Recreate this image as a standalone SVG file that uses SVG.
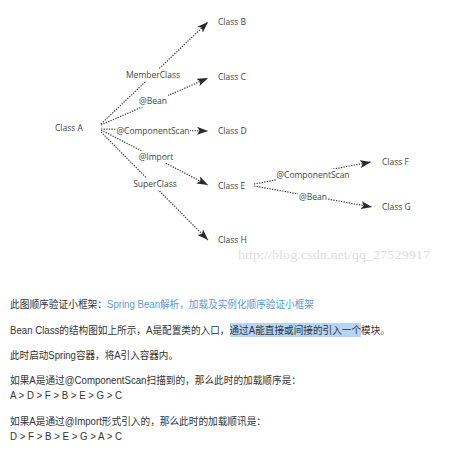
<svg xmlns="http://www.w3.org/2000/svg" width="474" height="452" viewBox="0 0 474 452">
<style>
.n{font-family:"Open Sans","Liberation Sans",sans-serif;font-size:8.5px;fill:#444}
.l{font-family:"Open Sans","Liberation Sans",sans-serif;font-size:8.5px;fill:#444;text-anchor:middle}
.c{fill:none;stroke:#3a3a3a;stroke-width:1.2;stroke-dasharray:1.3 1.3;marker-end:url(#ah)}
.p{font-family:"Liberation Sans","Noto Sans CJK SC",sans-serif;font-size:10px;fill:#333}
.b{fill:#5b9bd5}
.wm{font-family:"Liberation Serif",serif;font-size:12px;fill:#e0e0e0}
</style>
<defs>
<marker id="ah" viewBox="0 0 11 8" refX="11" refY="4" markerWidth="11" markerHeight="8" markerUnits="userSpaceOnUse" orient="auto">
<path d="M0,0 L11,4 L0,8 L2.5,4 Z" fill="#2a2a2a"/>
</marker>
</defs>
<rect width="474" height="452" fill="#fff"/>
<g id="connectors">
<path class="c" d="M101,124 L208,22"/>
<path class="c" d="M101,125 L208,78"/>
<path class="c" d="M101,129 L208,131"/>
<path class="c" d="M101,130 L208,185"/>
<path class="c" d="M101,132 L208,240"/>
<path class="c" d="M254,184 L371,162"/>
<path class="c" d="M254,186 L372,207"/>
<rect x="127" y="69" width="53" height="12" fill="#fff"/>
<text class="l" x="153" y="78">MemberClass</text>
<rect x="138" y="95" width="30" height="12" fill="#fff"/>
<text class="l" x="153" y="104">@Bean</text>
<rect x="116" y="125" width="74" height="12" fill="#fff"/>
<text class="l" x="153" y="134">@ComponentScan</text>
<rect x="136" y="151" width="40" height="12" fill="#fff"/>
<text class="l" x="156" y="160">@Import</text>
<rect x="131" y="178" width="48" height="12" fill="#fff"/>
<text class="l" x="155" y="187">SuperClass</text>
<rect x="276" y="169" width="74" height="12" fill="#fff"/>
<text class="l" x="313" y="178">@ComponentScan</text>
<rect x="298" y="191" width="30" height="12" fill="#fff"/>
<text class="l" x="313" y="200">@Bean</text>
</g>
<g id="classA"><text class="n" x="55" y="131">Class A</text></g>
<g id="classB"><text class="n" x="218" y="25">Class B</text></g>
<g id="classC"><text class="n" x="218" y="80">Class C</text></g>
<g id="classD"><text class="n" x="218" y="134">Class D</text></g>
<g id="classE"><text class="n" x="218" y="189">Class E</text></g>
<g id="classF"><text class="n" x="382" y="165">Class F</text></g>
<g id="classG"><text class="n" x="382" y="210">Class G</text></g>
<g id="classH"><text class="n" x="218" y="243">Class H</text></g>
<text class="wm" x="238" y="259" textLength="192" lengthAdjust="spacingAndGlyphs">http://blog.csdn.net/qq_27529917</text>
<text class="p" x="10" y="307.5" textLength="97" lengthAdjust="spacingAndGlyphs">此图顺序验证小框架：</text>
<text class="p b" x="107" y="307.5" textLength="207" lengthAdjust="spacingAndGlyphs">Spring Bean解析，加载及实例化顺序验证小框架</text>
<rect x="230" y="323" width="131" height="14" fill="#b4d5f5"/>
<text class="p" x="10" y="333.5" textLength="380" lengthAdjust="spacingAndGlyphs">Bean Class的结构图如上所示，A是配置类的入口，通过A能直接或间接的引入一个模块。</text>
<text class="p" x="10" y="358.5" textLength="168" lengthAdjust="spacingAndGlyphs">此时启动Spring容器，将A引入容器内。</text>
<text class="p" x="10" y="384" textLength="291" lengthAdjust="spacingAndGlyphs">如果A是通过@ComponentScan扫描到的，那么此时的加载顺序是：</text>
<text class="p" x="10" y="398.5" textLength="112" lengthAdjust="spacingAndGlyphs">A &gt; D &gt; F &gt; B &gt; E &gt; G &gt; C</text>
<text class="p" x="10" y="425" textLength="256" lengthAdjust="spacingAndGlyphs">如果A是通过@Import形式引入的，那么此时的加载顺讯是：</text>
<text class="p" x="10" y="440" textLength="112" lengthAdjust="spacingAndGlyphs">D &gt; F &gt; B &gt; E &gt; G &gt; A &gt; C</text>
</svg>
